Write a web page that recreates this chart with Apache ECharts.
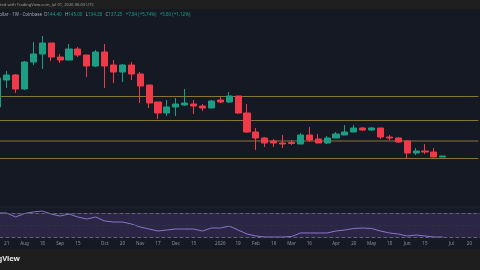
<!DOCTYPE html>
<html>
<head>
<meta charset="utf-8">
<script src="https://cdn.jsdelivr.net/npm/echarts@6/dist/echarts.min.js"></script>
<style>
html,body{margin:0;padding:0;background:#151924;}
#main{width:480px;height:270px;}
</style>
</head>
<body>
<div id="main"></div>
<script>
// weekly bars, Monday of each week
var weeks = [
    '2025-07-14','2025-07-21','2025-07-28','2025-08-04','2025-08-11','2025-08-18','2025-08-25',
    '2025-09-01','2025-09-08','2025-09-15','2025-09-22','2025-09-29','2025-10-06','2025-10-13',
    '2025-10-20','2025-10-27','2025-11-03','2025-11-10','2025-11-17','2025-11-24','2025-12-01',
    '2025-12-08','2025-12-15','2025-12-22','2025-12-29','2026-01-05','2026-01-12','2026-01-19',
    '2026-01-26','2026-02-02','2026-02-09','2026-02-16','2026-02-23','2026-03-02','2026-03-09',
    '2026-03-16','2026-03-23','2026-03-30','2026-04-06','2026-04-13','2026-04-20','2026-04-27',
    '2026-05-04','2026-05-11','2026-05-18','2026-05-25','2026-06-01','2026-06-08','2026-06-15',
    '2026-06-22','2026-06-29','2026-07-06','2026-07-13','2026-07-20','2026-07-27'
];
var opens  = [193,220,225,211,238,246,257,243,240,251,245,234,248,235,228,235,226,215,198,187,193,195,196,194,192,200,198,204,187,168,162,159,157,157.5,156,165,161,157,162,165,168,172,170,172,163,162,159,147,149,148,143];
var closes = [222,225,211,238,246,257,243,240,251,245,234,248,234,228,235,226,214,197,187,193,196,197,194,192,199,198,204,187,168,162,157,157,156,156.5,165,160,157,162,166,168,172,170,172,163,162,158,147,149,148,143,144];
var lows   = [190,212,207,210,235,231,239,237,240,243,223,233,212,217,218,220,197,192,181,184,184,194,186,189,192,197,197,186,167,150,153,153,152,155,156,158,157,156,162,165,168,169,169,161,160,157,141,145,146,143,143];
var highs  = [224,229,226,239,258,264,257,246,256,253,245,250,256,240,236,238,228,215,198,200,202,211,200,196,200,203,208,204,196,172,163,161,165,160,167,173,166,164,168,175,175,173,173,172,165,163,160,152,156,152,144];
var rsi    = [70,70,63.3,69.2,71.7,73.3,68.3,65,68.3,63.3,60,63.3,56.7,55,55,51.7,46.7,43.3,40,41.7,43.3,43.3,43.3,40,45,45,48.3,41.7,35,31.7,30,30,30,30.8,36.7,36.7,36.7,36.7,40,41.7,44.2,45,44.2,40,36.7,35,31.7,33.3,31.7,30,30];
var levels = [203.5, 179.5, 159, 141.5];
var tickWeeks = ['2025-07-21','2025-08-04','2025-08-18','2025-09-01','2025-09-15','2025-10-06','2025-10-20','2025-11-03','2025-11-17','2025-12-01','2025-12-15','2026-01-05','2026-01-19','2026-02-02','2026-02-16','2026-03-02','2026-03-16','2026-04-06','2026-04-20','2026-05-04','2026-05-18','2026-06-01','2026-06-15','2026-07-06','2026-07-20'];
var tickTexts = ['21','Aug','18','Sep','15','Oct','20','Nov','17','Dec','15','2026','19','Feb','16','Mar','16','Apr','20','May','18','Jun','15','Jul','20'];

var upColor = '#1c9e85', downColor = '#f03a4a';
var levelColor = '#8a7539';
var font = '"Noto Sans", Roboto, sans-serif';

var candles = opens.map(function (o, i) {
    return [o, closes[i], lows[i], highs[i]];
});
var labelOf = {};
tickWeeks.forEach(function (w, i) {
    labelOf[w] = tickTexts[i];
});

var chart = echarts.init(document.getElementById('main'));

var series = [
    {
        type: 'candlestick',
        xAxisIndex: 0,
        yAxisIndex: 0,
        barWidth: 6.6,
        data: candles,
        z: 3,
        itemStyle: {
            color: upColor,
            color0: downColor,
            borderColor: upColor,
            borderColor0: downColor,
            borderWidth: 1
        }
    },
    {
        type: 'line',
        xAxisIndex: 1,
        yAxisIndex: 1,
        data: rsi,
        symbol: 'none',
        lineStyle: {color: '#8a76c8', width: 1},
        markArea: {
            silent: true,
            itemStyle: {color: 'rgba(126,87,194,0.2)'},
            data: [[{yAxis: 30}, {yAxis: 70}]]
        },
        markLine: {
            silent: true,
            symbol: 'none',
            label: {show: false},
            data: [
                {yAxis: 70, lineStyle: {color: '#5e6170', type: 'dashed', width: 1}},
                {yAxis: 50, lineStyle: {color: '#2f3140', type: 'dashed', width: 1}},
                {yAxis: 30, lineStyle: {color: '#5e6170', type: 'dashed', width: 1}}
            ]
        }
    }
];
// one series per horizontal level, a full-width line at that price
levels.forEach(function (v) {
    series.push({
        type: 'line',
        xAxisIndex: 0,
        yAxisIndex: 0,
        z: 2,
        symbol: 'none',
        silent: true,
        color: levelColor,
        lineStyle: {color: levelColor, width: 1.2},
        data: [[weeks[0], v], [weeks[weeks.length - 1], v]]
    });
});

var option = {
    animation: false,
    backgroundColor: '#151924',
    grid: [
        {left: -6.65, width: 489.5, top: 10, height: 197, outerBoundsMode: 'none'},
        {left: -6.65, width: 489.5, top: 207, height: 32, outerBoundsMode: 'none'}
    ],
    xAxis: [
        {type: 'category', gridIndex: 0, data: weeks, show: false},
        {
            type: 'category', gridIndex: 1, data: weeks,
            axisLine: {show: false},
            axisTick: {show: false},
            splitLine: {show: false},
            axisLabel: {
                margin: 2.5,
                color: '#8b8e98',
                fontSize: 4.6,
                fontFamily: font,
                interval: function (index, value) {
                    return labelOf[value] !== undefined;
                },
                formatter: function (value) {
                    return labelOf[value] || '';
                }
            }
        }
    ],
    yAxis: [
        {type: 'value', gridIndex: 0, min: 93, max: 290, show: false},
        {type: 'value', gridIndex: 1, min: 26.67, max: 80, show: false}
    ],
    graphic: [
        // rsi pane
        {type: 'rect', z: 0, shape: {x: 0, y: 207, width: 480, height: 33}, style: {fill: '#171a27'}},
        {type: 'line', z: 1, shape: {x1: 0, y1: 207, x2: 480, y2: 207}, style: {stroke: '#232633', lineWidth: 1}},
        // top & bottom strips
        {type: 'rect', z: 100, shape: {x: 0, y: 0, width: 480, height: 9}, style: {fill: '#1f1f1f'}},
        {type: 'rect', z: 100, shape: {x: 0, y: 249, width: 480, height: 21}, style: {fill: '#1e1e1e'}},
        {
            type: 'text', z: 101, x: 94, y: 5,
            style: {
                text: 'Created with TradingView.com, Jul 01, 2026 06:03 UTC',
                align: 'right', verticalAlign: 'middle',
                fill: '#9b9da4', font: '4.1px ' + font
            }
        },
        {
            type: 'text', z: 101, x: 42, y: 14.5,
            style: {
                text: 'U.S. Dollar · 1W · Coinbase',
                align: 'right', verticalAlign: 'middle',
                fill: '#a3a5ac', font: '4.5px ' + font
            }
        },
        {
            type: 'text', z: 101, x: 44, y: 14.5,
            style: {
                text: '{l|O}{v|144.40} {l|H}{v|145.00} {l|L}{v|134.38} {l|C}{v|137.25} {v|+7.84 (+5.74%)} {v|+5.80 (+1.12%)}',
                verticalAlign: 'middle',
                rich: {
                    l: {fill: '#a3a5ac', font: '4.5px ' + font},
                    v: {fill: '#1c9e85', font: '4.5px ' + font}
                }
            }
        },
        {
            type: 'text', z: 101, x: 20, y: 259,
            style: {
                text: 'TradingView',
                align: 'right', verticalAlign: 'middle',
                fill: '#e6e6e6', font: 'bold 7.5px ' + font
            }
        }
    ],
    series: series
};

chart.setOption(option);
</script>
</body>
</html>
